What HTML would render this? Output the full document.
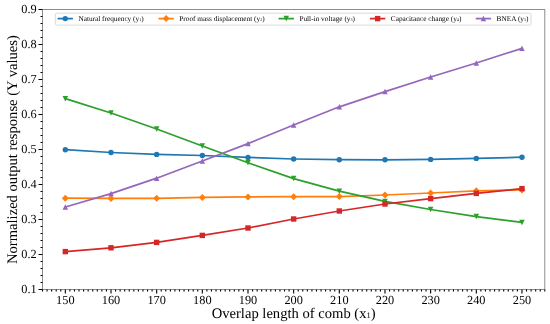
<!DOCTYPE html>
<html><head><meta charset="utf-8"><style>
html,body{margin:0;padding:0;background:#fff;}
body{width:550px;height:324px;overflow:hidden;}
svg{display:block;will-change:transform;}
text{font-family:"Liberation Serif",serif;fill:#000;text-rendering:geometricPrecision;}
.t{font-size:12.3px;}
.l{font-size:14.6px;}
.g{font-size:7.3px;}
.sub{font-size:58%;}
</style></head><body>
<svg width="550" height="324" viewBox="0 0 550 324">
<polyline points="65.33,149.70 111.00,152.50 156.66,154.40 202.32,155.50 247.99,157.40 293.65,159.00 339.31,159.70 384.98,159.80 430.64,159.40 476.30,158.40 521.97,157.20" fill="none" stroke="#1f77b4" stroke-width="1.75" stroke-linejoin="round"/>
<circle cx="65.33" cy="149.70" r="2.70" fill="#1f77b4"/>
<circle cx="111.00" cy="152.50" r="2.70" fill="#1f77b4"/>
<circle cx="156.66" cy="154.40" r="2.70" fill="#1f77b4"/>
<circle cx="202.32" cy="155.50" r="2.70" fill="#1f77b4"/>
<circle cx="247.99" cy="157.40" r="2.70" fill="#1f77b4"/>
<circle cx="293.65" cy="159.00" r="2.70" fill="#1f77b4"/>
<circle cx="339.31" cy="159.70" r="2.70" fill="#1f77b4"/>
<circle cx="384.98" cy="159.80" r="2.70" fill="#1f77b4"/>
<circle cx="430.64" cy="159.40" r="2.70" fill="#1f77b4"/>
<circle cx="476.30" cy="158.40" r="2.70" fill="#1f77b4"/>
<circle cx="521.97" cy="157.20" r="2.70" fill="#1f77b4"/>
<polyline points="65.33,198.20 111.00,198.40 156.66,198.30 202.32,197.40 247.99,196.90 293.65,196.70 339.31,196.60 384.98,195.00 430.64,193.00 476.30,190.80 521.97,190.00" fill="none" stroke="#ff7f0e" stroke-width="1.75" stroke-linejoin="round"/>
<path d="M65.33 194.70L68.83 198.20L65.33 201.70L61.83 198.20Z" fill="#ff7f0e"/>
<path d="M111.00 194.90L114.50 198.40L111.00 201.90L107.50 198.40Z" fill="#ff7f0e"/>
<path d="M156.66 194.80L160.16 198.30L156.66 201.80L153.16 198.30Z" fill="#ff7f0e"/>
<path d="M202.32 193.90L205.82 197.40L202.32 200.90L198.82 197.40Z" fill="#ff7f0e"/>
<path d="M247.99 193.40L251.49 196.90L247.99 200.40L244.49 196.90Z" fill="#ff7f0e"/>
<path d="M293.65 193.20L297.15 196.70L293.65 200.20L290.15 196.70Z" fill="#ff7f0e"/>
<path d="M339.31 193.10L342.81 196.60L339.31 200.10L335.81 196.60Z" fill="#ff7f0e"/>
<path d="M384.98 191.50L388.48 195.00L384.98 198.50L381.48 195.00Z" fill="#ff7f0e"/>
<path d="M430.64 189.50L434.14 193.00L430.64 196.50L427.14 193.00Z" fill="#ff7f0e"/>
<path d="M476.30 187.30L479.80 190.80L476.30 194.30L472.80 190.80Z" fill="#ff7f0e"/>
<path d="M521.97 186.50L525.47 190.00L521.97 193.50L518.47 190.00Z" fill="#ff7f0e"/>
<polyline points="65.33,98.65 111.00,113.00 156.66,129.00 202.32,146.00 247.99,162.80 293.65,178.60 339.31,191.20 384.98,201.40 430.64,209.50 476.30,216.60 521.97,222.40" fill="none" stroke="#2ca02c" stroke-width="1.75" stroke-linejoin="round"/>
<path d="M62.58 95.90L68.08 95.90L65.33 101.40Z" fill="#2ca02c"/>
<path d="M108.25 110.25L113.75 110.25L111.00 115.75Z" fill="#2ca02c"/>
<path d="M153.91 126.25L159.41 126.25L156.66 131.75Z" fill="#2ca02c"/>
<path d="M199.57 143.25L205.07 143.25L202.32 148.75Z" fill="#2ca02c"/>
<path d="M245.24 160.05L250.74 160.05L247.99 165.55Z" fill="#2ca02c"/>
<path d="M290.90 175.85L296.40 175.85L293.65 181.35Z" fill="#2ca02c"/>
<path d="M336.56 188.45L342.06 188.45L339.31 193.95Z" fill="#2ca02c"/>
<path d="M382.23 198.65L387.73 198.65L384.98 204.15Z" fill="#2ca02c"/>
<path d="M427.89 206.75L433.39 206.75L430.64 212.25Z" fill="#2ca02c"/>
<path d="M473.55 213.85L479.05 213.85L476.30 219.35Z" fill="#2ca02c"/>
<path d="M519.22 219.65L524.72 219.65L521.97 225.15Z" fill="#2ca02c"/>
<polyline points="65.33,251.60 111.00,247.80 156.66,242.40 202.32,235.40 247.99,228.00 293.65,219.00 339.31,211.00 384.98,204.00 430.64,198.60 476.30,193.40 521.97,188.60" fill="none" stroke="#d62728" stroke-width="1.75" stroke-linejoin="round"/>
<rect x="62.63" y="248.90" width="5.40" height="5.40" fill="#d62728"/>
<rect x="108.30" y="245.10" width="5.40" height="5.40" fill="#d62728"/>
<rect x="153.96" y="239.70" width="5.40" height="5.40" fill="#d62728"/>
<rect x="199.62" y="232.70" width="5.40" height="5.40" fill="#d62728"/>
<rect x="245.29" y="225.30" width="5.40" height="5.40" fill="#d62728"/>
<rect x="290.95" y="216.30" width="5.40" height="5.40" fill="#d62728"/>
<rect x="336.61" y="208.30" width="5.40" height="5.40" fill="#d62728"/>
<rect x="382.28" y="201.30" width="5.40" height="5.40" fill="#d62728"/>
<rect x="427.94" y="195.90" width="5.40" height="5.40" fill="#d62728"/>
<rect x="473.60" y="190.70" width="5.40" height="5.40" fill="#d62728"/>
<rect x="519.27" y="185.90" width="5.40" height="5.40" fill="#d62728"/>
<polyline points="65.33,207.00 111.00,193.60 156.66,178.20 202.32,161.00 247.99,143.60 293.65,125.00 339.31,106.80 384.98,91.60 430.64,77.00 476.30,63.00 521.97,48.30" fill="none" stroke="#9467bd" stroke-width="1.75" stroke-linejoin="round"/>
<path d="M62.58 209.75L68.08 209.75L65.33 204.25Z" fill="#9467bd"/>
<path d="M108.25 196.35L113.75 196.35L111.00 190.85Z" fill="#9467bd"/>
<path d="M153.91 180.95L159.41 180.95L156.66 175.45Z" fill="#9467bd"/>
<path d="M199.57 163.75L205.07 163.75L202.32 158.25Z" fill="#9467bd"/>
<path d="M245.24 146.35L250.74 146.35L247.99 140.85Z" fill="#9467bd"/>
<path d="M290.90 127.75L296.40 127.75L293.65 122.25Z" fill="#9467bd"/>
<path d="M336.56 109.55L342.06 109.55L339.31 104.05Z" fill="#9467bd"/>
<path d="M382.23 94.35L387.73 94.35L384.98 88.85Z" fill="#9467bd"/>
<path d="M427.89 79.75L433.39 79.75L430.64 74.25Z" fill="#9467bd"/>
<path d="M473.55 65.75L479.05 65.75L476.30 60.25Z" fill="#9467bd"/>
<path d="M519.22 51.05L524.72 51.05L521.97 45.55Z" fill="#9467bd"/>
<rect x="42.5" y="9.55" width="502.30" height="280.00" fill="none" stroke="#808080" stroke-width="0.9"/>
<path d="M42.50 289.55v2M47.07 289.55v2M51.63 289.55v2M56.20 289.55v2M60.77 289.55v2M65.33 289.55v4M69.90 289.55v2M74.46 289.55v2M79.03 289.55v2M83.60 289.55v2M88.16 289.55v2M92.73 289.55v2M97.30 289.55v2M101.86 289.55v2M106.43 289.55v2M111.00 289.55v4M115.56 289.55v2M120.13 289.55v2M124.69 289.55v2M129.26 289.55v2M133.83 289.55v2M138.39 289.55v2M142.96 289.55v2M147.53 289.55v2M152.09 289.55v2M156.66 289.55v4M161.23 289.55v2M165.79 289.55v2M170.36 289.55v2M174.92 289.55v2M179.49 289.55v2M184.06 289.55v2M188.62 289.55v2M193.19 289.55v2M197.76 289.55v2M202.32 289.55v4M206.89 289.55v2M211.46 289.55v2M216.02 289.55v2M220.59 289.55v2M225.15 289.55v2M229.72 289.55v2M234.29 289.55v2M238.85 289.55v2M243.42 289.55v2M247.99 289.55v4M252.55 289.55v2M257.12 289.55v2M261.69 289.55v2M266.25 289.55v2M270.82 289.55v2M275.38 289.55v2M279.95 289.55v2M284.52 289.55v2M289.08 289.55v2M293.65 289.55v4M298.22 289.55v2M302.78 289.55v2M307.35 289.55v2M311.92 289.55v2M316.48 289.55v2M321.05 289.55v2M325.61 289.55v2M330.18 289.55v2M334.75 289.55v2M339.31 289.55v4M343.88 289.55v2M348.45 289.55v2M353.01 289.55v2M357.58 289.55v2M362.15 289.55v2M366.71 289.55v2M371.28 289.55v2M375.84 289.55v2M380.41 289.55v2M384.98 289.55v4M389.54 289.55v2M394.11 289.55v2M398.68 289.55v2M403.24 289.55v2M407.81 289.55v2M412.38 289.55v2M416.94 289.55v2M421.51 289.55v2M426.07 289.55v2M430.64 289.55v4M435.21 289.55v2M439.77 289.55v2M444.34 289.55v2M448.91 289.55v2M453.47 289.55v2M458.04 289.55v2M462.61 289.55v2M467.17 289.55v2M471.74 289.55v2M476.30 289.55v4M480.87 289.55v2M485.44 289.55v2M490.00 289.55v2M494.57 289.55v2M499.14 289.55v2M503.70 289.55v2M508.27 289.55v2M512.84 289.55v2M517.40 289.55v2M521.97 289.55v4M526.53 289.55v2M531.10 289.55v2M535.67 289.55v2M540.23 289.55v2M544.80 289.55v2M42.5 289.55h-4M42.5 282.55h-2M42.5 275.55h-2M42.5 268.55h-2M42.5 261.55h-2M42.5 254.55h-4M42.5 247.55h-2M42.5 240.55h-2M42.5 233.55h-2M42.5 226.55h-2M42.5 219.55h-4M42.5 212.55h-2M42.5 205.55h-2M42.5 198.55h-2M42.5 191.55h-2M42.5 184.55h-4M42.5 177.55h-2M42.5 170.55h-2M42.5 163.55h-2M42.5 156.55h-2M42.5 149.55h-4M42.5 142.55h-2M42.5 135.55h-2M42.5 128.55h-2M42.5 121.55h-2M42.5 114.55h-4M42.5 107.55h-2M42.5 100.55h-2M42.5 93.55h-2M42.5 86.55h-2M42.5 79.55h-4M42.5 72.55h-2M42.5 65.55h-2M42.5 58.55h-2M42.5 51.55h-2M42.5 44.55h-4M42.5 37.55h-2M42.5 30.55h-2M42.5 23.55h-2M42.5 16.55h-2M42.5 9.55h-4" stroke="#000" stroke-width="1.1" fill="none"/>
<text x="65.33" y="303.55" text-anchor="middle" class="t">150</text>
<text x="111.00" y="303.55" text-anchor="middle" class="t">160</text>
<text x="156.66" y="303.55" text-anchor="middle" class="t">170</text>
<text x="202.32" y="303.55" text-anchor="middle" class="t">180</text>
<text x="247.99" y="303.55" text-anchor="middle" class="t">190</text>
<text x="293.65" y="303.55" text-anchor="middle" class="t">200</text>
<text x="339.31" y="303.55" text-anchor="middle" class="t">210</text>
<text x="384.98" y="303.55" text-anchor="middle" class="t">220</text>
<text x="430.64" y="303.55" text-anchor="middle" class="t">230</text>
<text x="476.30" y="303.55" text-anchor="middle" class="t">240</text>
<text x="521.97" y="303.55" text-anchor="middle" class="t">250</text>
<text x="36.70" y="293.25" text-anchor="end" class="t">0.1</text>
<text x="36.70" y="258.25" text-anchor="end" class="t">0.2</text>
<text x="36.70" y="223.25" text-anchor="end" class="t">0.3</text>
<text x="36.70" y="188.25" text-anchor="end" class="t">0.4</text>
<text x="36.70" y="153.25" text-anchor="end" class="t">0.5</text>
<text x="36.70" y="118.25" text-anchor="end" class="t">0.6</text>
<text x="36.70" y="83.25" text-anchor="end" class="t">0.7</text>
<text x="36.70" y="48.25" text-anchor="end" class="t">0.8</text>
<text x="36.70" y="13.25" text-anchor="end" class="t">0.9</text>
<text x="293.65" y="318.2" text-anchor="middle" class="l">Overlap length of comb (x<tspan class="sub">1</tspan>)</text>
<text transform="translate(17.2 149.55) rotate(-90)" x="0" y="0" text-anchor="middle" class="l">Normalized output response (Y values)</text>
<rect x="55.3" y="13.2" width="475.7" height="11.900000000000002" rx="1.5" fill="#fff" fill-opacity="0.8" stroke="#d0d0d0" stroke-width="0.8"/>
<path d="M57.60 18.60h15.3" stroke="#1f77b4" stroke-width="1.75"/>
<circle cx="65.25" cy="18.60" r="2.70" fill="#1f77b4"/>
<text x="78.40" y="21.20" class="g">Natural frequency (y<tspan class="sub">1</tspan>)</text>
<path d="M158.50 18.60h15.3" stroke="#ff7f0e" stroke-width="1.75"/>
<path d="M166.15 15.10L169.65 18.60L166.15 22.10L162.65 18.60Z" fill="#ff7f0e"/>
<text x="179.30" y="21.20" class="g">Proof mass displacement (y<tspan class="sub">2</tspan>)</text>
<path d="M278.60 18.60h15.3" stroke="#2ca02c" stroke-width="1.75"/>
<path d="M283.50 15.85L289.00 15.85L286.25 21.35Z" fill="#2ca02c"/>
<text x="299.40" y="21.20" class="g">Pull-in voltage (y<tspan class="sub">3</tspan>)</text>
<path d="M370.00 18.60h15.3" stroke="#d62728" stroke-width="1.75"/>
<rect x="374.95" y="15.90" width="5.40" height="5.40" fill="#d62728"/>
<text x="390.80" y="21.20" class="g">Capacitance change (y<tspan class="sub">4</tspan>)</text>
<path d="M475.80 18.60h15.3" stroke="#9467bd" stroke-width="1.75"/>
<path d="M480.70 21.35L486.20 21.35L483.45 15.85Z" fill="#9467bd"/>
<text x="496.60" y="21.20" class="g">BNEA (y<tspan class="sub">5</tspan>)</text>
</svg>
</body></html>
